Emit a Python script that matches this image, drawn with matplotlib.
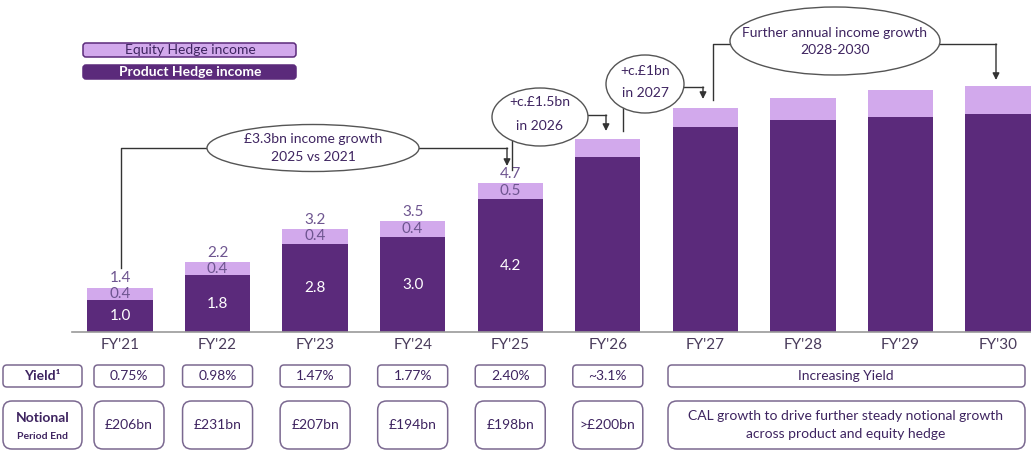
import matplotlib
matplotlib.use("Agg")
import matplotlib.pyplot as plt
from matplotlib.patches import FancyBboxPatch, Ellipse

plt.rcParams['font.family'] = ['Lato', 'DejaVu Sans']

years = ["FY'21", "FY'22", "FY'23", "FY'24", "FY'25", "FY'26", "FY'27", "FY'28", "FY'29", "FY'30"]
product = [1.0, 1.8, 2.8, 3.0, 4.2, 5.55, 6.5, 6.7, 6.8, 6.9]
total = [1.4, 2.2, 3.25, 3.5, 4.7, 6.1, 7.1, 7.4, 7.65, 7.8]
product_labels = ["1.0", "1.8", "2.8", "3.0", "4.2"]
equity_labels = ["0.4", "0.4", "0.4", "0.4", "0.5"]
total_labels = ["1.4", "2.2", "3.2", "3.5", "4.7"]
yields = ["0.75%", "0.98%", "1.47%", "1.77%", "2.40%", "~3.1%"]
notional = ["£206bn", "£231bn", "£207bn", "£194bn", "£198bn", ">£200bn"]

DARK = "#5B2A7B"
LIGHT = "#D2A9EC"
TXT = "#3E2460"
LBL = "#6E5590"
EDGE = "#7A6890"

W, H = 1031, 461
X0, DX = 120, 97.56      # pixel centre of first bar, spacing
BASE, DY = 332, 31.6     # baseline pixel row, px per unit

fig = plt.figure(figsize=(W / 100, H / 100), dpi=100)
ax = fig.add_axes([0, 0, 1, 1])
ax.set_xlim(-X0 / DX, (W - X0) / DX)
ax.set_ylim(-(H - BASE) / DY, BASE / DY)
ax.axis('off')

xs = list(range(len(years)))
equity = [t - p for t, p in zip(total, product)]
ax.bar(xs, product, width=0.67, color=DARK, zorder=2)
ax.bar(xs, equity, bottom=product, width=0.67, color=LIGHT, zorder=2)
ax.plot([-(X0 - 72) / DX, (W - X0) / DX], [0, 0], color="#9a9a9a", lw=1.2, zorder=3)

for i, y in enumerate(years):
    ax.text(i, -0.2, y, ha='center', va='top', fontsize=11, color="#4a3c5c")
for i in range(len(product_labels)):
    ax.text(i, product[i] / 2, product_labels[i], ha='center', va='center',
            fontsize=11, color='white', zorder=4)
    ax.text(i, (product[i] + total[i]) / 2, equity_labels[i], ha='center', va='center',
            fontsize=11, color=LBL, zorder=4)
    ax.text(i, total[i] + 0.08, total_labels[i], ha='center', va='bottom',
            fontsize=11, color=LBL, zorder=4)

# overlay in pixel space for legend, callouts and table
ov = fig.add_axes([0, 0, 1, 1])
ov.set_xlim(0, W)
ov.set_ylim(H, 0)
ov.axis('off')
ov.patch.set_alpha(0)


def rbox(x0, x1, y0, y1, r, fc='white', ec=EDGE, lw=1.1):
    ov.add_patch(FancyBboxPatch((x0, y0), x1 - x0, y1 - y0,
                                boxstyle=f"round,pad=0,rounding_size={r}",
                                fc=fc, ec=ec, lw=lw))


def conn(pts, arrow=False):
    xs_, ys_ = zip(*pts)
    ov.plot(xs_[:-1] if arrow else xs_, ys_[:-1] if arrow else ys_, color="#333333", lw=1.0)
    if arrow:
        ov.annotate("", xy=pts[-1], xytext=pts[-2],
                    arrowprops=dict(arrowstyle="-|>,head_length=0.4,head_width=0.2",
                                    color="#333333", lw=1.0, shrinkA=0, shrinkB=0))


def bubble(cx, cy, w, h, lines):
    ov.add_patch(Ellipse((cx, cy), w, h, fc='white', ec="#555555", lw=1.0, zorder=5))
    for t, ty in lines:
        ov.text(cx, ty, t, ha='center', va='center', fontsize=10, color=TXT, zorder=6)


# legend
rbox(83, 296, 43, 57, 3, fc=LIGHT, ec=DARK)
ov.text(190, 50.5, "Equity Hedge income", ha='center', va='center', fontsize=10, color=TXT)
rbox(83, 296, 65, 79, 3, fc=DARK, ec=DARK)
ov.text(190, 72.5, "Product Hedge income", ha='center', va='center', fontsize=10,
        color='white', fontweight='bold')

# £3.3bn callout
conn([(207, 148), (121, 148), (121, 268)])
conn([(419, 148), (507, 148), (507, 166)], arrow=True)
bubble(313, 148, 212, 47, [("£3.3bn income growth", 139), ("2025 vs 2021", 157)])

# +c.£1.5bn callout
conn([(512, 141), (512, 170)])
conn([(586, 115), (606, 115), (606, 131)], arrow=True)
bubble(540, 117, 96, 58, [("+c.£1.5bn", 102), ("in 2026", 126)])

# +c.£1bn callout
conn([(623, 107), (623, 131)])
conn([(683, 87), (703, 87), (703, 99)], arrow=True)
bubble(645, 84, 78, 58, [("+c.£1bn", 71), ("in 2027", 93)])

# further growth callout
conn([(731, 44), (713, 44), (713, 100)])
conn([(939, 44), (996, 44), (996, 80)], arrow=True)
bubble(835, 41, 210, 68, [("Further annual income growth", 33), ("2028-2030", 50)])

# table rows
rbox(3, 82, 365, 387, 4)
ov.text(42.5, 376, "Yield¹", ha='center', va='center', fontsize=10, color=TXT, fontweight='bold')
rbox(3, 82, 401, 449, 9)
ov.text(42.5, 418, "Notional", ha='center', va='center', fontsize=10, color=TXT, fontweight='bold')
ov.text(42.5, 436, "Period End", ha='center', va='center', fontsize=7.5, color=TXT, fontweight='bold')

for i in range(len(yields)):
    cx = X0 + DX * i + (9 if i == 0 else 0)
    rbox(cx - 35, cx + 35, 365, 387, 4)
    ov.text(cx, 376, yields[i], ha='center', va='center', fontsize=10, color=TXT)
    rbox(cx - 35, cx + 35, 401, 449, 9)
    ov.text(cx, 425, notional[i], ha='center', va='center', fontsize=10, color=TXT)

rbox(668, 1025, 365, 387, 4)
ov.text(846, 376, "Increasing Yield", ha='center', va='center', fontsize=10, color=TXT)
rbox(668, 1025, 401, 449, 9)
ov.text(846, 416, "CAL growth to drive further steady notional growth",
        ha='center', va='center', fontsize=10, color=TXT)
ov.text(846, 434, "across product and equity hedge",
        ha='center', va='center', fontsize=10, color=TXT)

fig.savefig("out.png", dpi=100)
